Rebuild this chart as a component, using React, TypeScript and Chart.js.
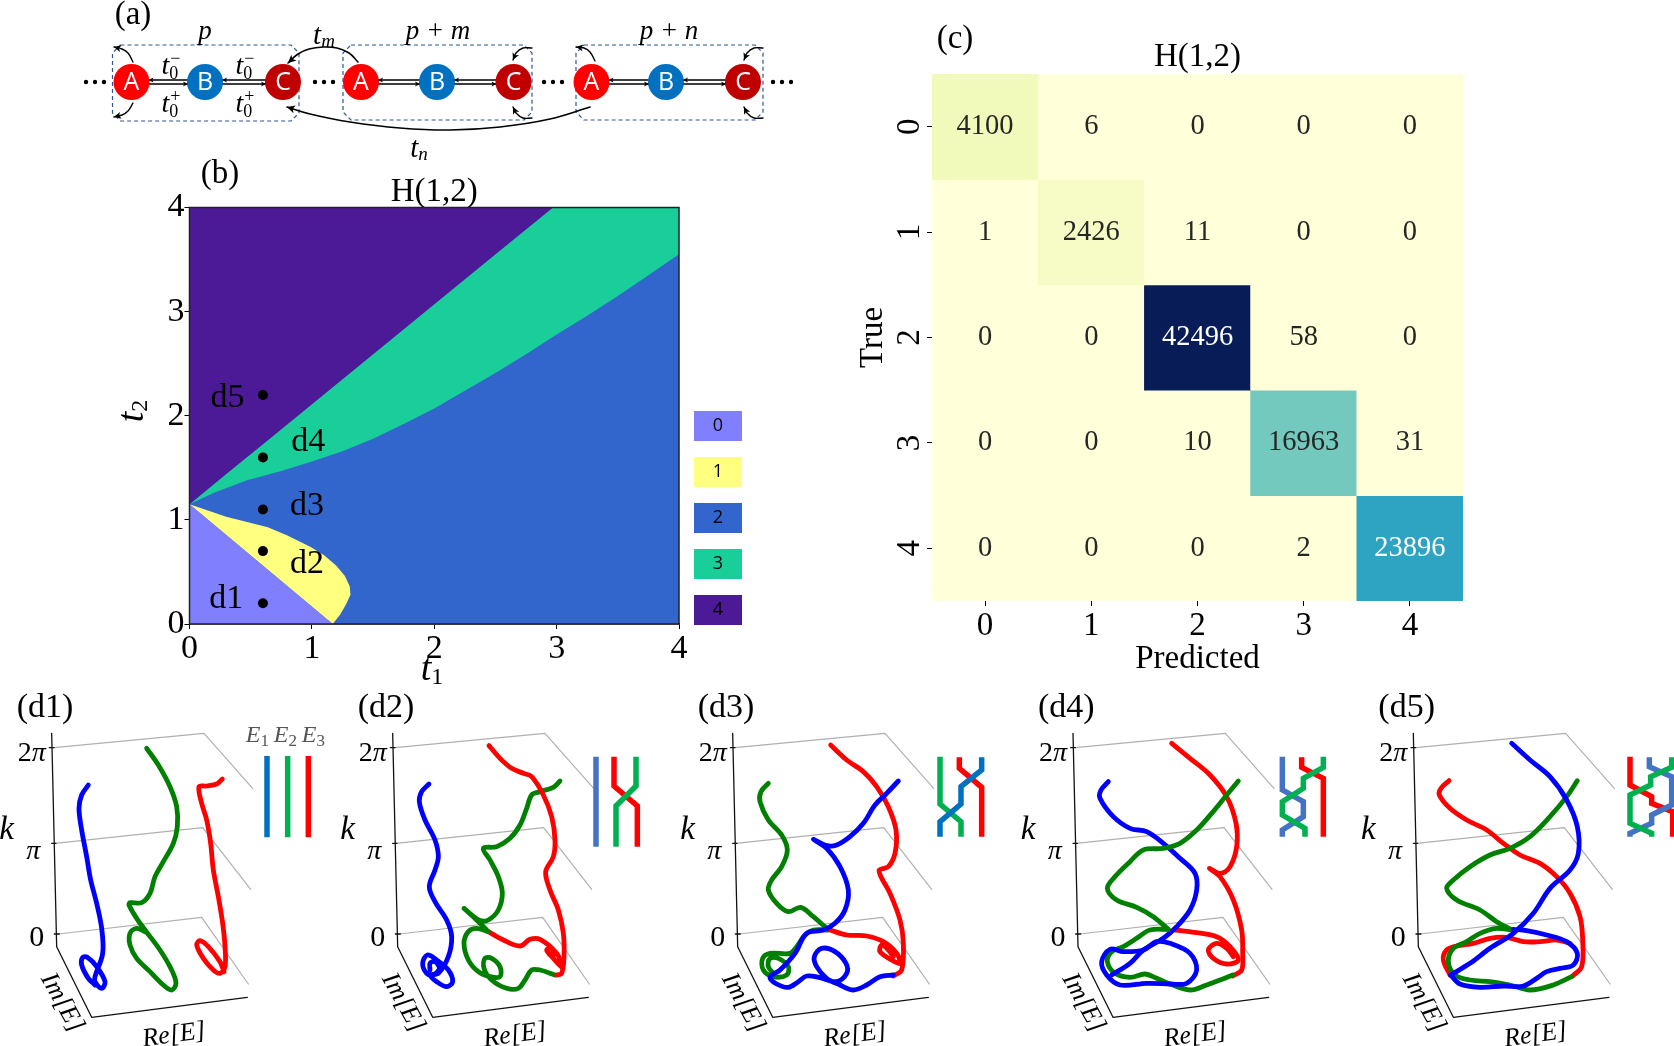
import React, { useEffect, useRef } from "react";
import { Chart, registerables } from "chart.js";
Chart.register(...registerables);

const SERIF = '"Liberation Serif"';
const SANS = '"Open Sans"';
type P = [number, number];

// ---------- panel (b) ----------
const phaseLabels = ["0", "1", "2", "3", "4"];
const phaseColors = ["#8080FF", "#FFFF80", "#3366CC", "#1ACE9A", "#4C1A96"];
const upperEdge: P[] = [[0, 1.15], [0.3, 1.44], [0.63, 1.755], [1, 2.11], [1.5, 2.59], [2, 3.07], [2.5, 3.55], [2.97, 4]];
const lowerEdge: P[] = [[0, 1.15], [0.2, 1.26], [0.47, 1.38], [0.75, 1.47], [1, 1.56], [1.25, 1.66], [1.5, 1.78], [1.75, 1.92], [2, 2.07], [2.25, 2.24], [2.5, 2.41], [2.75, 2.59], [3, 2.78], [3.25, 2.96], [3.5, 3.15], [3.75, 3.35], [4, 3.55]];
const yellowEdge: P[] = [[0, 1.15], [0.15, 1.09], [0.3, 1.03], [0.47, 0.98], [0.64, 0.93], [0.8, 0.85], [0.99, 0.74], [1.1, 0.66], [1.2, 0.56], [1.27, 0.46], [1.31, 0.36], [1.315, 0.28], [1.28, 0.19], [1.23, 0.09], [1.17, 0]];
const samplePoints: P[] = [[0.6, 0.2], [0.6, 0.7], [0.6, 1.1], [0.6, 1.6], [0.6, 2.2]];
const sampleNames = ["d1", "d2", "d3", "d4", "d5"];
const sampleLabelAt: P[] = [[0.3, 0.24], [0.96, 0.58], [0.96, 1.13], [0.97, 1.75], [0.31, 2.17]];

// ---------- panel (c) ----------
const classLabels = ["0", "1", "2", "3", "4"];
const confusion = [
  [4100, 6, 0, 0, 0],
  [1, 2426, 11, 0, 0],
  [0, 0, 42496, 58, 0],
  [0, 0, 10, 16963, 31],
  [0, 0, 0, 2, 23896],
];
const ylGnBu = ["#ffffd9", "#edf8b1", "#c7e9b4", "#7fcdbb", "#41b6c4", "#1d91c0", "#225ea8", "#253494", "#081d58"];

// ---------- panel (d) curves ----------
const BLUE = "#0000FF", GREEN = "#008000", RED = "#FF0000";
const d1Blue: P[] = [[265, 315], [245, 345], [237, 385], [245, 450], [260, 530], [272, 600], [290, 670], [305, 745], [308, 820], [285, 890], [285, 905], [305, 925], [315, 905], [290, 860], [262, 832], [248, 832], [245, 855], [265, 895], [285, 915]];
const d1Green: P[] = [[440, 205], [475, 255], [510, 320], [530, 380], [532, 440], [520, 490], [490, 545], [465, 590], [450, 640], [425, 668], [390, 668], [387, 675], [410, 715], [435, 750], [480, 810], [515, 870], [528, 910], [515, 930], [490, 915], [450, 875], [410, 835], [390, 795], [390, 760], [410, 745], [435, 755]];
const d1Red: P[] = [[667, 297], [650, 312], [620, 318], [597, 320], [605, 370], [620, 420], [632, 490], [640, 570], [655, 650], [668, 730], [675, 800], [675, 860], [660, 880], [640, 870], [610, 835], [590, 795], [600, 782], [625, 800], [660, 845], [672, 875]];

const d2Blue: P[] = [[267, 312], [245, 335], [238, 365], [255, 420], [285, 480], [295, 530], [285, 570], [268, 620], [285, 665], [320, 720], [335, 770], [325, 830], [295, 880], [270, 885], [290, 905], [320, 920], [338, 905], [325, 870], [290, 840], [262, 825], [248, 850], [260, 880], [280, 885], [298, 865], [285, 845], [270, 850], [270, 870]];
const d2GreenTop: P[] = [[660, 303], [640, 322], [600, 335], [575, 345], [560, 385], [540, 435], [510, 475], [470, 500], [430, 505], [450, 540], [475, 590], [487, 640], [475, 690], [445, 720], [420, 722], [395, 705], [372, 685], [400, 710], [440, 750]];
const d2GreenLow: P[] = [[445, 755], [410, 745], [385, 755], [372, 790], [385, 840], [415, 875], [450, 890], [480, 890], [480, 860], [455, 835], [435, 835], [432, 865], [455, 900], [500, 925], [535, 925], [555, 900], [575, 870], [600, 870], [645, 885]];
const d2RedTop: P[] = [[447, 197], [480, 235], [515, 265], [550, 280], [575, 290], [610, 345], [635, 410], [645, 480], [640, 530], [617, 575], [630, 630], [655, 690], [670, 760], [672, 830], [665, 880], [650, 885]];
const d2RedLow: P[] = [[445, 755], [490, 780], [540, 798], [570, 778], [600, 778], [650, 820], [665, 860], [640, 835], [620, 810], [635, 805], [640, 825]];

const d3GreenTop: P[] = [[265, 310], [243, 335], [240, 365], [265, 420], [305, 465], [322, 510], [305, 560], [275, 600], [265, 630], [290, 670], [325, 695], [362, 682], [400, 710], [440, 745]];
const d3GreenLow: P[] = [[445, 750], [400, 750], [375, 765], [350, 800], [330, 820], [270, 820], [248, 835], [250, 870], [280, 890], [320, 885], [325, 860], [295, 835], [270, 835], [265, 860], [285, 885]];
const d3Blue: P[] = [[655, 303], [620, 340], [585, 375], [550, 430], [510, 470], [470, 495], [440, 497], [400, 478], [440, 505], [480, 560], [505, 630], [495, 690], [465, 730], [430, 750], [380, 760], [345, 820], [300, 870], [270, 892], [290, 912], [325, 922], [355, 905], [380, 888], [420, 893], [470, 905], [500, 880], [498, 850], [465, 815], [425, 805], [403, 830], [410, 860], [440, 895], [480, 915], [520, 930], [560, 915], [600, 890], [640, 885]];
const d3RedTop: P[] = [[452, 195], [500, 240], [550, 275], [590, 320], [625, 380], [648, 450], [645, 520], [625, 560], [597, 572], [630, 640], [660, 720], [670, 790], [665, 870], [640, 888]];
const d3RedLow: P[] = [[450, 750], [500, 765], [560, 768], [610, 785], [650, 820], [660, 850], [635, 840], [600, 815], [605, 795], [625, 810], [640, 830]];

const d4BlueTop: P[] = [[265, 305], [243, 330], [240, 355], [280, 410], [330, 445], [380, 455], [430, 490], [480, 535], [525, 580], [530, 630], [510, 690], [470, 740], [430, 775], [370, 810], [330, 850], [275, 885]];
const d4BlueLow: P[] = [[450, 912], [380, 910], [300, 915], [260, 885], [245, 845], [270, 808], [310, 815], [370, 810], [410, 785], [450, 790], [510, 820], [530, 870], [500, 910], [450, 912]];
const d4GreenTop: P[] = [[655, 303], [620, 345], [575, 400], [530, 450], [480, 490], [430, 505], [370, 510], [330, 545], [285, 590], [262, 625], [290, 660], [350, 682], [400, 710], [445, 748]];
const d4GreenLow: P[] = [[445, 748], [390, 750], [350, 775], [310, 800], [275, 815], [262, 845], [285, 880], [330, 892], [375, 882], [410, 895], [450, 912], [510, 930], [560, 915], [600, 900], [638, 885]];
const d4RedTop: P[] = [[455, 190], [510, 235], [570, 285], [620, 350], [648, 430], [650, 500], [630, 560], [600, 580], [568, 565], [600, 590], [640, 660], [665, 750], [668, 820], [665, 870], [638, 888]];
const d4RedLow: P[] = [[465, 750], [530, 758], [590, 770], [630, 800], [655, 840], [620, 852], [580, 835], [565, 810], [590, 790], [620, 805], [640, 830]];

const d5RedTop: P[] = [[327, 302], [303, 325], [298, 345], [330, 385], [380, 420], [440, 450], [490, 490], [540, 525], [600, 550], [650, 590], [690, 640], [720, 710], [728, 780], [725, 860], [698, 888]];
const d5RedLow: P[] = [[330, 885], [310, 840], [320, 810], [350, 798], [400, 790], [450, 775], [500, 772], [550, 785], [600, 785], [650, 780], [690, 790]];
const d5GreenTop: P[] = [[712, 302], [680, 350], [630, 410], [570, 470], [510, 505], [450, 525], [390, 560], [340, 600], [320, 625], [350, 660], [420, 690], [470, 725], [515, 750]];
const d5GreenLow: P[] = [[515, 750], [470, 745], [420, 760], [380, 785], [340, 805], [325, 845], [345, 885], [390, 900], [450, 905], [510, 915], [570, 930], [640, 915], [695, 890]];
const d5BlueTop: P[] = [[515, 190], [570, 240], [630, 290], [680, 360], [712, 440], [715, 520], [690, 570], [630, 625], [580, 700], [520, 760], [450, 805], [390, 850], [332, 885]];
const d5BlueLow: P[] = [[332, 885], [360, 912], [420, 922], [490, 918], [550, 918], [590, 895], [620, 875], [660, 865], [700, 855], [712, 820], [680, 785], [620, 765], [560, 752], [520, 748]];

// ---------- braid sketches ----------
const BR_B = "#0070C0", BR_B2 = "#4472C4", BR_G = "#00B050", BR_R = "#FF0000";
const braid1: [string, P[]][] = [[BR_B, [[801, 228], [801, 472]]], [BR_G, [[863, 228], [863, 472]]], [BR_R, [[925, 228], [925, 472]]]];
const braid2: [string, P[]][] = [[BR_B2, [[768, 230], [768, 500]]], [BR_R, [[822, 230], [822, 318], [892, 378], [892, 500]]], [BR_G, [[888, 230], [888, 318], [828, 378], [828, 500]]]];
const braid3: [string, P[]][] = [[BR_G, [[780, 230], [780, 372], [843, 425], [843, 470]]], [BR_R, [[838, 232], [838, 265], [905, 322], [905, 470]]], [BR_B, [[780, 470], [780, 425], [843, 372], [843, 320], [905, 270], [905, 232]]]];
const braid4: [string, P[]][] = [[BR_R, [[845, 232], [845, 262], [910, 295], [910, 470]]], [BR_B2, [[787, 230], [787, 330], [850, 365], [850, 410], [787, 450], [787, 470]]], [BR_G, [[910, 230], [910, 262], [850, 295], [850, 325], [787, 365], [787, 405], [855, 445], [855, 470]]]];
const braid5: [string, P[]][] = [[BR_R, [[870, 230], [870, 315], [935, 350], [935, 370], [998, 395], [998, 470]]], [BR_B2, [[928, 232], [928, 260], [995, 290], [995, 375], [935, 405], [935, 430], [870, 460], [870, 470]]], [BR_G, [[995, 232], [995, 262], [932, 290], [932, 315], [870, 345], [870, 430], [935, 460], [935, 470]]]];

// ---------- 3D frame ----------
const frameBlack: P[][] = [[[155, 160], [170, 800], [275, 1012], [742, 952]], [[148, 203], [162, 203]], [[155, 490], [168, 490]], [[163, 762], [178, 762]]];
const frameGray: P[][] = [[[162, 203], [612, 160], [758, 325]], [[165, 490], [608, 443], [752, 628]], [[175, 762], [605, 712], [745, 912]]];

// ---------- panel (a) ----------
const nodeX = [131.5, 205, 283, 361, 437, 513.5, 591.5, 666, 743];
const nodeLetters = ["A", "B", "C", "A", "B", "C", "A", "B", "C"];
const nodeColors = ["#FF0000", "#0070C0", "#C00000", "#FF0000", "#0070C0", "#C00000", "#FF0000", "#0070C0", "#C00000"];
const nodeY = 82;
const ellipsisX = [86, 95, 104, 315, 324, 333, 544, 553, 562, 773, 782, 791];
const cellBoxes: [number, number, number, number][] = [[112.5, 45, 299, 121], [343, 45, 532, 120], [576, 45, 763, 120]];
const hopTm: P[] = [[358, 62], [349, 53], [337, 48], [323, 47], [309, 49], [298, 54], [288, 63]];
const hopTn: P[] = [[590, 107], [550, 119], [500, 127], [450, 130], [400, 128], [350, 122], [310, 114], [287, 107]];
const selfHops: P[][] = [
  [[133, 62], [128, 53], [122, 49], [114, 47]],
  [[133, 103], [128, 111], [122, 115], [114, 117]],
  [[532, 48], [523, 48], [516, 53], [513, 60]],
  [[532, 118], [523, 118], [516, 113], [513, 107]],
  [[595, 61], [590, 52], [584, 48], [576, 47]],
  [[763, 48], [754, 48], [747, 53], [744, 60]],
  [[763, 118], [754, 118], [747, 113], [744, 107]],
];

// ---------- helpers ----------
type Seg = { t: string; i?: boolean; s?: number; dy?: number; dx?: number };
function rich(ctx: any, segs: Seg[], x: number, y: number, base: number, opts: { rot?: number; color?: string } = {}) {
  ctx.save();
  ctx.translate(x, y);
  ctx.rotate(((opts.rot || 0) * Math.PI) / 180);
  ctx.textBaseline = "middle";
  ctx.textAlign = "left";
  ctx.fillStyle = opts.color || "#000";
  const font = (s: Seg) => `${s.i ? "italic " : ""}${s.s || base}px ${SERIF}`;
  let w = 0;
  for (const s of segs) {
    ctx.font = font(s);
    w += ctx.measureText(s.t).width + (s.dx || 0);
  }
  let cx = -w / 2;
  for (const s of segs) {
    ctx.font = font(s);
    ctx.fillText(s.t, cx, s.dy || 0);
    cx += ctx.measureText(s.t).width + (s.dx || 0);
  }
  ctx.restore();
}
function pts(a: P[]) {
  return a.map(([x, y]) => ({ x, y }));
}
function line(a: P[], color: string, width: number, extra: any = {}) {
  return {
    data: pts(a),
    showLine: true,
    borderColor: color,
    backgroundColor: color,
    borderWidth: width,
    pointRadius: 0,
    tension: 0,
    fill: false,
    clip: false,
    borderCapStyle: "round",
    borderJoinStyle: "round",
    ...extra,
  };
}
function colormap(v: number, max: number) {
  const t = (v / max) * (ylGnBu.length - 1);
  const i = Math.min(Math.floor(t), ylGnBu.length - 2);
  const f = t - i;
  const c = (h: string) => [1, 3, 5].map((k) => parseInt(h.substr(k, 2), 16));
  const a = c(ylGnBu[i]);
  const b = c(ylGnBu[i + 1]);
  return `rgb(${a.map((q, k) => Math.round(q + (b[k] - q) * f)).join(",")})`;
}
const base = { responsive: false, animation: false, events: [] as string[] };
const quiet = { legend: { display: false }, tooltip: { enabled: false } };
const hiddenScale = (min: number, max: number, reverse = false) => ({ type: "linear", display: false, min, max, reverse });

// ---------- configs ----------
function panelA(W: number, H: number) {
  const ds: any[] = [];
  for (const [l, t, r, b] of cellBoxes) {
    const c = 8;
    ds.push(line([[l + c, t], [r - c, t], [r, t + c], [r, b - c], [r - c, b], [l + c, b], [l, b - c], [l, t + c], [l + c, t]], "#2F5597", 1.2, { borderDash: [4, 3], borderCapStyle: "butt" }));
  }
  for (let i = 0; i < nodeX.length - 1; i++) {
    if (i % 3 === 2) continue;
    const a = nodeX[i] + 17, b = nodeX[i + 1] - 17;
    ds.push(line([[b, nodeY - 2], [a, nodeY - 2]], "#000", 1.3, { arrow: 5 }));
    ds.push(line([[a, nodeY + 2], [b, nodeY + 2]], "#000", 1.6, { arrow: 5 }));
  }
  ds.push(line(hopTm, "#000", 1.6, { tension: 0.4, arrow: 8 }));
  ds.push(line(hopTn, "#000", 1.6, { tension: 0.4, arrow: 8 }));
  for (const h of selfHops) ds.push(line(h, "#000", 1.4, { tension: 0.4, arrow: 7 }));
  ds.push(line(ellipsisX.map((x) => [x, nodeY] as P), "#000", 0, { showLine: false, pointRadius: 2.2, pointBackgroundColor: "#000", pointBorderWidth: 0 }));
  ds.push(line(nodeX.map((x) => [x, nodeY] as P), "#000", 0, { showLine: false, pointRadius: 18, pointBackgroundColor: nodeColors, pointBorderWidth: 0 }));
  const plugin = {
    id: "panelA",
    afterDatasetsDraw(chart: any) {
      const { ctx } = chart;
      const sx = chart.scales.x, sy = chart.scales.y;
      chart.data.datasets.forEach((d: any, i: number) => {
        if (!d.arrow) return;
        const m = chart.getDatasetMeta(i).data;
        const p = m[m.length - 1];
        const q = m[m.length - 2];
        const an = Math.atan2(p.y - q.y, p.x - q.x);
        ctx.save();
        ctx.translate(p.x, p.y);
        ctx.rotate(an);
        ctx.fillStyle = "#000";
        ctx.beginPath();
        ctx.moveTo(0, 0);
        ctx.lineTo(-d.arrow, -d.arrow * 0.5);
        ctx.lineTo(-d.arrow * 0.75, 0);
        ctx.lineTo(-d.arrow, d.arrow * 0.5);
        ctx.closePath();
        ctx.fill();
        ctx.restore();
      });
      nodeX.forEach((x, i) => {
        ctx.save();
        ctx.fillStyle = "#fff";
        ctx.font = `25px ${SANS}`;
        ctx.textAlign = "center";
        ctx.textBaseline = "middle";
        ctx.fillText(nodeLetters[i], sx.getPixelForValue(x), sy.getPixelForValue(nodeY) + 1);
        ctx.restore();
      });
      const at = (x: number, y: number) => [sx.getPixelForValue(x), sy.getPixelForValue(y)] as const;
      const put = (segs: Seg[], x: number, y: number, f: number) => {
        const [px, py] = at(x, y);
        rich(ctx, segs, px, py, f);
      };
      put([{ t: "(a)" }], 133, 15, 33);
      put([{ t: "p", i: true }], 205, 32, 27);
      put([{ t: "p + m", i: true }], 438, 32, 27);
      put([{ t: "p + n", i: true }], 669, 32, 27);
      put([{ t: "t", i: true }, { t: "m", i: true, s: 19, dy: 6 }], 324, 36, 29);
      put([{ t: "t", i: true }, { t: "n", i: true, s: 19, dy: 6 }], 419, 149, 29);
      for (const x of [171, 245]) {
        put([{ t: "t", i: true }, { t: "0", s: 18, dy: 7, dx: -8 }, { t: "−", s: 18, dy: -8 }], x, 67, 28);
        put([{ t: "t", i: true }, { t: "0", s: 18, dy: 7, dx: -8 }, { t: "+", s: 18, dy: -8 }], x, 105, 28);
      }
    },
  };
  return {
    type: "scatter",
    data: { datasets: ds.reverse() },
    options: { ...base, layout: { padding: 0, autoPadding: false }, plugins: quiet, scales: { x: hiddenScale(0, W), y: hiddenScale(0, H, true) } },
    plugins: [plugin],
  };
}

function panelB() {
  const canvas = { left: 100, top: 150, width: 670, height: 545 };
  const plot = { left: 189.5, right: 679, top: 207.5, bottom: 624 };
  const poly = (a: P[], c: string) => ({ data: pts(a), showLine: true, borderWidth: 0, pointRadius: 0, backgroundColor: c, borderColor: c, fill: "shape", tension: 0 });
  const green = [...upperEdge, [4, 4], ...lowerEdge.slice().reverse()] as P[];
  const purple = [...upperEdge, [0, 4]] as P[];
  const lilac: P[] = [[0, 0], yellowEdge[yellowEdge.length - 1], yellowEdge[0]];
  const yellow = [...yellowEdge] as P[];
  const ds: any[] = [
    poly([[0, 0], [4, 0], [4, 4], [0, 4]], phaseColors[2]),
    poly(green, phaseColors[3]),
    poly(purple, phaseColors[4]),
    poly(yellow, phaseColors[1]),
    poly(lilac, phaseColors[0]),
    { data: pts(samplePoints), pointRadius: 5, pointBackgroundColor: "#000", pointBorderWidth: 0, showLine: false, backgroundColor: "#000" },
  ];
  const plugin = {
    id: "panelB",
    afterDraw(chart: any) {
      const { ctx, chartArea: a } = chart;
      const sx = chart.scales.x, sy = chart.scales.y;
      ctx.save();
      ctx.strokeStyle = "#222";
      ctx.lineWidth = 1.5;
      ctx.strokeRect(a.left, a.top, a.right - a.left, a.bottom - a.top);
      ctx.restore();
      sampleNames.forEach((n, i) => rich(ctx, [{ t: n }], sx.getPixelForValue(sampleLabelAt[i][0]), sy.getPixelForValue(sampleLabelAt[i][1]), 34));
      rich(ctx, [{ t: "(b)" }], 220 - canvas.left, 174 - canvas.top, 33);
      rich(ctx, [{ t: "t", i: true }, { t: "1", s: 24, dy: 8 }], 432 - canvas.left, 670 - canvas.top, 38);
      rich(ctx, [{ t: "t", i: true }, { t: "2", s: 24, dy: 8 }], 133 - canvas.left, 411 - canvas.top, 38, { rot: -90 });
      phaseLabels.forEach((l, i) => {
        const y = 411 + i * 46 - canvas.top;
        const x = 694 - canvas.left;
        ctx.fillStyle = phaseColors[i];
        ctx.fillRect(x, y, 48, 30);
        ctx.fillStyle = "#000";
        ctx.font = `18px ${SANS}`;
        ctx.textAlign = "center";
        ctx.textBaseline = "middle";
        ctx.fillText(l, x + 24, y + 15);
      });
    },
  };
  const tick = { font: { family: SERIF, size: 34 }, color: "#000", stepSize: 1, padding: 0 };
  const grid = { drawOnChartArea: false, color: "#000", tickLength: 5 };
  const titleH = 33 * 1.2 - 5;
  return {
    canvas,
    config: {
      type: "scatter",
      data: { datasets: ds.reverse() },
      options: {
        ...base,
        layout: { autoPadding: false, padding: { left: 0, bottom: 0, right: canvas.left + canvas.width - plot.right, top: plot.top - canvas.top - titleH } },
        plugins: { ...quiet, title: { display: true, text: "H(1,2)", fullSize: false, color: "#000", font: { family: SERIF, size: 33, weight: "normal" }, padding: { top: 0, bottom: -5 } } },
        scales: {
          x: { type: "linear", min: 0, max: 4, ticks: tick, grid, border: { color: "#000", width: 1.5 }, afterFit: (s: any) => { s.height = canvas.top + canvas.height - plot.bottom; } },
          y: { type: "linear", min: 0, max: 4, ticks: tick, grid, border: { color: "#000", width: 1.5 }, afterFit: (s: any) => { s.width = plot.left - canvas.left; } },
        },
      },
      plugins: [plugin],
    },
  };
}

function panelC() {
  const canvas = { left: 854, top: 20, width: 640, height: 659 };
  const plot = { left: 932, right: 1463, top: 74, bottom: 601 };
  const maxV = 42496;
  const plugin = {
    id: "panelC",
    afterDatasetsDraw(chart: any) {
      const { ctx } = chart;
      const sx = chart.scales.x, sy = chart.scales.y;
      ctx.save();
      ctx.textAlign = "center";
      ctx.textBaseline = "middle";
      confusion.forEach((row, r) =>
        row.forEach((v, c) => {
          ctx.font = `28.5px ${SERIF}`;
          ctx.fillStyle = v > 20000 ? "#fff" : "#262626";
          ctx.fillText(String(v), sx.getPixelForValue(c), sy.getPixelForValue(r + 0.5));
        })
      );
      classLabels.forEach((l, r) => {
        ctx.save();
        ctx.translate(sx.left - 22, sy.getPixelForValue(r + 0.5));
        ctx.rotate(-Math.PI / 2);
        ctx.fillStyle = "#000";
        ctx.font = `33px ${SERIF}`;
        ctx.fillText(l, 0, 0);
        ctx.restore();
      });
      ctx.restore();
      rich(ctx, [{ t: "(c)" }], 955 - canvas.left, 39 - canvas.top, 33);
    },
  };
  const titleH = 33 * 1.2 - 3;
  return {
    canvas,
    config: {
      type: "bar",
      data: {
        labels: classLabels,
        datasets: confusion.map((row, r) => ({
          label: `True ${classLabels[r]}`,
          data: row.map(() => 1),
          backgroundColor: row.map((v) => colormap(v, maxV)),
          borderWidth: 0,
          barPercentage: 1,
          categoryPercentage: 1,
          stack: "m",
        })),
      },
      options: {
        ...base,
        layout: { autoPadding: false, padding: { left: 0, bottom: 0, right: canvas.left + canvas.width - plot.right, top: plot.top - canvas.top - titleH } },
        plugins: { ...quiet, title: { display: true, text: "H(1,2)", fullSize: false, color: "#000", font: { family: SERIF, size: 33, weight: "normal" }, padding: { top: 0, bottom: -3 } } },
        scales: {
          x: {
            stacked: true,
            ticks: { font: { family: SERIF, size: 33 }, color: "#000", padding: 1, maxRotation: 0 },
            grid: { drawOnChartArea: false, color: "#000", tickLength: 5, offset: false },
            border: { display: false },
            title: { display: true, text: "Predicted", color: "#000", font: { family: SERIF, size: 33 }, padding: 0 },
            afterFit: (s: any) => { s.height = canvas.top + canvas.height - plot.bottom; },
          },
          y: {
            stacked: true,
            reverse: true,
            min: 0,
            max: 5,
            afterBuildTicks: (s: any) => { s.ticks = classLabels.map((_, i) => ({ value: i + 0.5 })); },
            ticks: { callback: () => " ", padding: 0, autoSkip: false },
            grid: { drawOnChartArea: false, color: "#000", tickLength: 5 },
            border: { display: false },
            title: { display: true, text: "True", color: "#000", font: { family: SERIF, size: 33 }, padding: 0 },
            afterFit: (s: any) => { s.width = plot.left - canvas.left; },
          },
        },
      },
      plugins: [plugin],
    },
  };
}

function panelD(name: string, W: number, shift: number, curves: [string, P[], number?][], braid: [string, P[]][], showEnergies = false) {
  const sh = (a: P[]) => a.map(([x, y]) => [x + shift, y] as P);
  const ds: any[] = [];
  frameGray.forEach((f) => ds.push(line(sh(f), "#B0B0B0", 1.2)));
  frameBlack.forEach((f) => ds.push(line(sh(f), "#111", 1.3)));
  curves.forEach(([c, a, w]) => ds.push(line(a, c, w || 4.8, { tension: 0.35 })));
  braid.forEach(([c, a]) => ds.push(line(a, c, 5.5, { borderCapStyle: "butt", borderJoinStyle: "miter" })));
  const plugin = {
    id: "panelD",
    afterDatasetsDraw(chart: any) {
      const { ctx } = chart;
      const sx = chart.scales.x, sy = chart.scales.y;
      const put = (segs: Seg[], x: number, y: number, f: number, o: any = {}) =>
        rich(ctx, segs, sx.getPixelForValue(x + shift), sy.getPixelForValue(y), f, o);
      put([{ t: name }], 135, 85, 34);
      put([{ t: "2" }, { t: "π", i: true }], 95, 222, 28);
      put([{ t: "π", i: true }], 100, 515, 28);
      put([{ t: "0" }], 110, 775, 30);
      put([{ t: "k", i: true }], 20, 450, 33);
      put([{ t: "Im[E]", i: true }], 186, 968, 26, { rot: 61 });
      put([{ t: "Re[E]", i: true }], 522, 1066, 26, { rot: -8 });
      if (showEnergies) {
        ["1", "2", "3"].forEach((n, i) =>
          put([{ t: "E", i: true }, { t: n, s: 17, dy: 6 }], 772 + i * 84, 168, 24, { color: "#555" })
        );
      }
    },
  };
  return {
    type: "scatter",
    data: { datasets: ds.reverse() },
    options: { ...base, layout: { padding: 0, autoPadding: false }, plugins: quiet, scales: { x: hiddenScale(0, W * 3), y: hiddenScale(0, 1098, true) } },
    plugins: [plugin],
  };
}

function Panel({ left, top, width, height, make }: { left: number; top: number; width: number; height: number; make: () => any }) {
  const ref = useRef<HTMLCanvasElement>(null);
  useEffect(() => {
    const chart = new Chart(ref.current as any, make());
    return () => chart.destroy();
  }, []);
  return <canvas ref={ref} width={width} height={height} style={{ position: "absolute", left, top, width, height, display: "block" }} />;
}

export default function App() {
  const b = panelB();
  const c = panelC();
  return (
    <div style={{ position: "absolute", left: 0, top: 0, width: 1674, height: 1046, background: "#fff", overflow: "hidden" }}>
      <Panel left={0} top={0} width={830} height={170} make={() => panelA(830, 170)} />
      <Panel {...b.canvas} make={() => b.config} />
      <Panel {...c.canvas} make={() => c.config} />
      <Panel left={0} top={680} width={340} height={366} make={() => panelD("(d1)", 340, 0, [[BLUE, d1Blue], [GREEN, d1Green], [RED, d1Red]], braid1, true)} />
      <Panel left={340} top={680} width={340} height={366} make={() => panelD("(d2)", 340, 3, [[BLUE, d2Blue], [GREEN, d2GreenTop], [RED, d2RedLow], [GREEN, d2GreenLow], [RED, d2RedTop]], braid2)} />
      <Panel left={680} top={680} width={340} height={366} make={() => panelD("(d3)", 340, 3, [[GREEN, d3GreenTop], [GREEN, d3GreenLow], [RED, d3RedLow], [RED, d3RedTop], [BLUE, d3Blue]], braid3)} />
      <Panel left={1020} top={680} width={320} height={366} make={() => panelD("(d4)", 320, 4, [[RED, d4RedLow], [RED, d4RedTop], [GREEN, d4GreenLow], [BLUE, d4BlueLow], [BLUE, d4BlueTop], [GREEN, d4GreenTop]], braid4)} />
      <Panel left={1340} top={680} width={334} height={366} make={() => panelD("(d5)", 334, 65, [[RED, d5RedTop], [RED, d5RedLow], [GREEN, d5GreenLow], [GREEN, d5GreenTop], [BLUE, d5BlueLow], [BLUE, d5BlueTop]], braid5)} />
    </div>
  );
}
